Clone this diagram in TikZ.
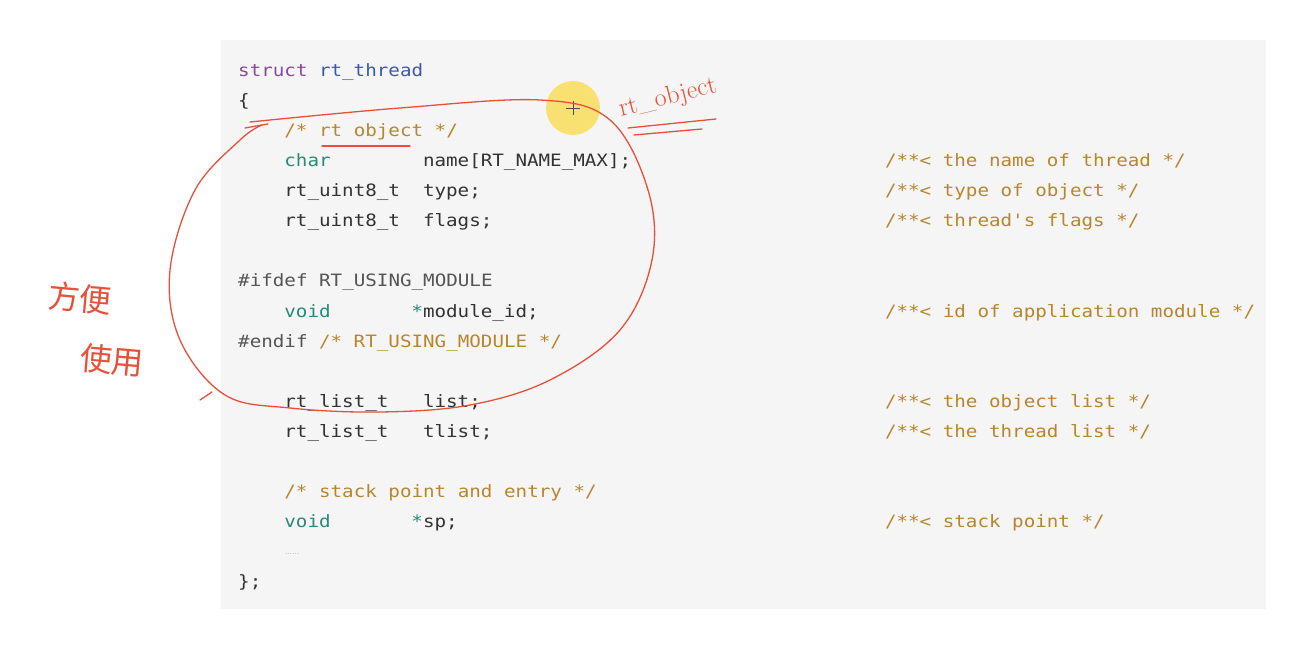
\documentclass[tikz,border=0pt]{standalone}
\usepackage{fontspec}
\newfontfamily\code[FakeStretch=1.13]{DejaVu Sans Mono}
\newfontfamily\cjk{Noto Sans CJK SC}
\definecolor{kw}{HTML}{8A4A9A}
\definecolor{ty}{HTML}{3A5AA8}
\definecolor{tl}{HTML}{2A8A7A}
\definecolor{cm}{HTML}{B8862E}
\definecolor{tx}{HTML}{333333}
\definecolor{pp}{HTML}{555555}
\definecolor{pen}{HTML}{E8503A}
\begin{document}
\begin{tikzpicture}[x=1pt,y=-1pt,
  c/.style={anchor=base west,inner sep=0pt,font=\code\fontsize{17}{17}\selectfont,text=tx},
  ink/.style={draw=pen,line width=1.3pt,line cap=round,line join=round}]
\useasboundingbox[fill=white] (0,0) rectangle (1296,647);
\fill[black!4] (221,40) rectangle (1266,609);
\fill[yellow!70!orange,opacity=0.55] (573,108) circle (27);
\newcommand\T[5]{\node[c,text=#4] (#5) at (238+11.55*#1,#2+6) {#3};}
\T{0}{71}{struct}{kw}{a1}\T{7}{71}{rt\_thread}{ty}{a2}
\T{0}{101}{\{}{tx}{b1}
\T{4}{131}{/* rt object */}{cm}{c1}
\T{4}{161}{char}{tl}{d1}\T{16}{161}{name[RT\_NAME\_MAX];}{tx}{d2}\T{56}{161}{/**< the name of thread */}{cm}{d3}
\T{4}{191}{rt\_uint8\_t}{tx}{e1}\T{16}{191}{type;}{tx}{e2}\T{56}{191}{/**< type of object */}{cm}{e3}
\T{4}{221}{rt\_uint8\_t}{tx}{f1}\T{16}{221}{flags;}{tx}{f2}\T{56}{221}{/**< thread's flags */}{cm}{f3}
\T{0}{281}{\#ifdef RT\_USING\_MODULE}{pp}{g1}
\T{4}{311}{void}{tl}{h1}\T{15}{311}{*}{tl}{h2}\T{16}{311}{module\_id;}{tx}{h3}\T{56}{311}{/**< id of application module */}{cm}{h4}
\T{0}{341}{\#endif}{pp}{i1}\T{7}{341}{/* RT\_USING\_MODULE */}{cm}{i2}
\T{4}{401}{rt\_list\_t}{tx}{j1}\T{16}{401}{list;}{tx}{j2}\T{56}{401}{/**< the object list */}{cm}{j3}
\T{4}{431}{rt\_list\_t}{tx}{k1}\T{16}{431}{tlist;}{tx}{k2}\T{56}{431}{/**< the thread list */}{cm}{k3}
\T{4}{491}{/* stack point and entry */}{cm}{l1}
\T{4}{521}{void}{tl}{m1}\T{15}{521}{*}{tl}{m2}\T{16}{521}{sp;}{tx}{m3}\T{56}{521}{/**< stack point */}{cm}{m4}
\node[anchor=base west,inner sep=0pt,text=gray,font=\fontsize{8}{8}\selectfont] (dots) at (285,554) {......};
\T{0}{581}{\};}{tx}{o1}
% cursor
\draw[black!70,line width=0.6pt] (566,108)--(580,108) (573,101)--(573,115);
% annotations
\draw[ink] (245,128)--(268,124);
\draw[ink] (322,146)--(410,146);
\draw[ink] plot[smooth,tension=0.6] coordinates {(250,122) (400,108) (540,100) (610,120) (648,190) (652,260) (620,330) (550,380) (470,405) (380,412) (290,408) (225,395) (180,340) (170,270) (195,190) (240,140) (262,125)};
\draw[ink] (200,400)--(212,392);
\node[text=pen,rotate=14,inner sep=0pt,font=\fontsize{26}{26}\selectfont] (ro) at (668,98) {rt\_object};
\draw[ink] (628,128)--(716,119);
\draw[ink] (634,135)--(702,129);
\node[text=pen,inner sep=0pt,font=\cjk\fontsize{32}{32}\selectfont,rotate=-5] (h1x) at (80,298) {方便};
\node[text=pen,inner sep=0pt,font=\cjk\fontsize{32}{32}\selectfont,rotate=-5] (h2x) at (112,360) {使用};
\end{tikzpicture}
\end{document}
